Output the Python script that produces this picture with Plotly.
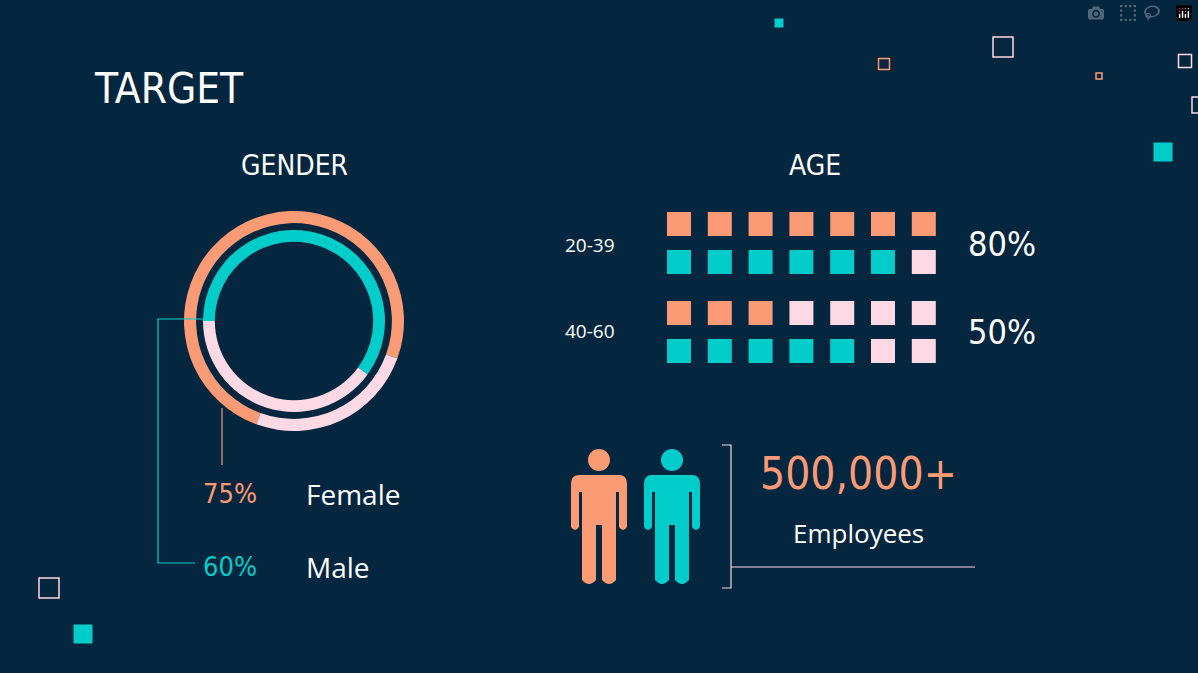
import plotly.graph_objects as go

BG = "#04263f"
OR = "#fb9b76"
TE = "#00cdc9"
PK = "#fdd9e5"
W = 1198; H = 673

gender_labels = ["Female", "Male"]
gender_pct = [75, 60]
age_groups = ["20-39", "40-60"]
age_pct = [80, 50]
# waffle rows: (orange count top row, teal count bottom row) out of 7
age_top_orange = [7, 3]
age_bottom_teal = [6, 5]
cols = 7
employees = "500,000+"

fig = go.Figure()
FN = "DejaVu Sans Condensed, sans-serif"
FB = "Open Sans, sans-serif"

# donuts
cx, cy = 294, 321
def dom(r):
    return dict(x=[(cx - r) / W, (cx + r) / W], y=[1 - (cy + r) / H, 1 - (cy - r) / H])
fig.add_trace(go.Pie(values=[gender_pct[0], 100 - gender_pct[0]], hole=0.89, rotation=200,
                     direction="clockwise", sort=False, marker=dict(colors=[OR, PK], line=dict(width=0)),
                     textinfo="none", hoverinfo="skip", domain=dom(110), showlegend=False))
fig.add_trace(go.Pie(values=[gender_pct[1], 100 - gender_pct[1]], hole=0.87, rotation=270,
                     direction="clockwise", sort=False, marker=dict(colors=[TE, PK], line=dict(width=0)),
                     textinfo="none", hoverinfo="skip", domain=dom(91), showlegend=False))

# waffle
x0, dx = 679, 40.8
row_y = [(224, 262), (313, 351)]
xs, ys, cs = [], [], []
for g in range(len(age_groups)):
    for c in range(cols):
        xs.append(x0 + c * dx); ys.append(row_y[g][0]); cs.append(OR if c < age_top_orange[g] else PK)
        xs.append(x0 + c * dx); ys.append(row_y[g][1]); cs.append(TE if c < age_bottom_teal[g] else PK)
fig.add_trace(go.Scatter(x=xs, y=ys, mode="markers", hoverinfo="skip", showlegend=False,
                         marker=dict(symbol="square", size=24, color=cs, line=dict(width=0))))

shapes = []
def sq(x, y, s, color, fill=False, lw=1.5):
    shapes.append(dict(type="rect", x0=x - s / 2, x1=x + s / 2, y0=y - s / 2, y1=y + s / 2,
                       line=dict(color=color, width=0 if fill else lw), fillcolor=color if fill else "rgba(0,0,0,0)"))
sq(1003, 47, 20, PK); sq(884, 64, 11, OR); sq(1099, 76, 6, OR); sq(1185, 61, 13, PK)
sq(1200, 105, 16, PK); sq(779, 23, 9, TE, True); sq(1163, 152, 19, TE, True)
sq(49, 588, 20, PK); sq(83, 634, 19, TE, True)

def ln(pts, color, w=1.2):
    p = "M " + " L ".join(f"{x},{y}" for x, y in pts)
    shapes.append(dict(type="path", path=p, line=dict(color=color, width=w)))
ln([(213, 319), (158, 319), (158, 563), (195, 563)], TE)
ln([(222, 408), (222, 465)], OR)
ln([(722, 445), (731, 445), (731, 588), (722, 588)], PK)
ln([(731, 567), (975, 567)], PK)

def person(x, color):
    shapes.append(dict(type="circle", x0=x - 11, x1=x + 11, y0=449, y1=471, fillcolor=color, line=dict(width=0)))
    body = (f"M {x-20},{475} Q {x-28},{475} {x-28},{484} L {x-28},{527} Q {x-24},{533} {x-20},{527} L {x-20},{492} "
            f"L {x-17},{492} L {x-17},{580} Q {x-10},{588} {x-3},{580} L {x-3},{525} L {x+3},{525} L {x+3},{580} "
            f"Q {x+10},{588} {x+17},{580} L {x+17},{492} L {x+20},{492} L {x+20},{527} Q {x+24},{533} {x+28},{527} "
            f"L {x+28},{484} Q {x+28},{475} {x+20},{475} Z")
    shapes.append(dict(type="path", path=body, fillcolor=color, line=dict(width=0)))
person(599, OR); person(672, TE)

ann = []
def tx(x, y, t, size, color="white", font=FN, anchor="center"):
    ann.append(dict(x=x, y=y, text=t, showarrow=False, xanchor=anchor, yanchor="middle",
                    font=dict(size=size, color=color, family=font)))
tx(92, 88, "TARGET", 42, anchor="left")
tx(294, 165, "GENDER", 28)
tx(815, 165, "AGE", 28)
tx(230, 493, f"{gender_pct[0]}%", 27, OR)
tx(230, 566, f"{gender_pct[1]}%", 27, TE)
tx(304, 494, gender_labels[0], 28, font=FB, anchor="left")
tx(304, 567, gender_labels[1], 28, font=FB, anchor="left")
for g in range(2):
    tx(590, 245 + g * 86, age_groups[g], 19, font=FB)
    tx(966, 244 + g * 88, f"{age_pct[g]}%", 34, anchor="left")
tx(858, 473, employees, 44, OR)
tx(858, 533, "Employees", 26, font=FB)

fig.update_layout(width=W, height=H, margin=dict(l=0, r=0, t=0, b=0), paper_bgcolor=BG, plot_bgcolor=BG,
                  shapes=shapes, annotations=ann,
                  xaxis=dict(range=[0, W], visible=False, domain=[0, 1], fixedrange=True),
                  yaxis=dict(range=[H, 0], visible=False, domain=[0, 1], fixedrange=True))
fig.write_html("out.html", post_script="document.body.style.margin='0';document.body.style.background='#04263f';")
